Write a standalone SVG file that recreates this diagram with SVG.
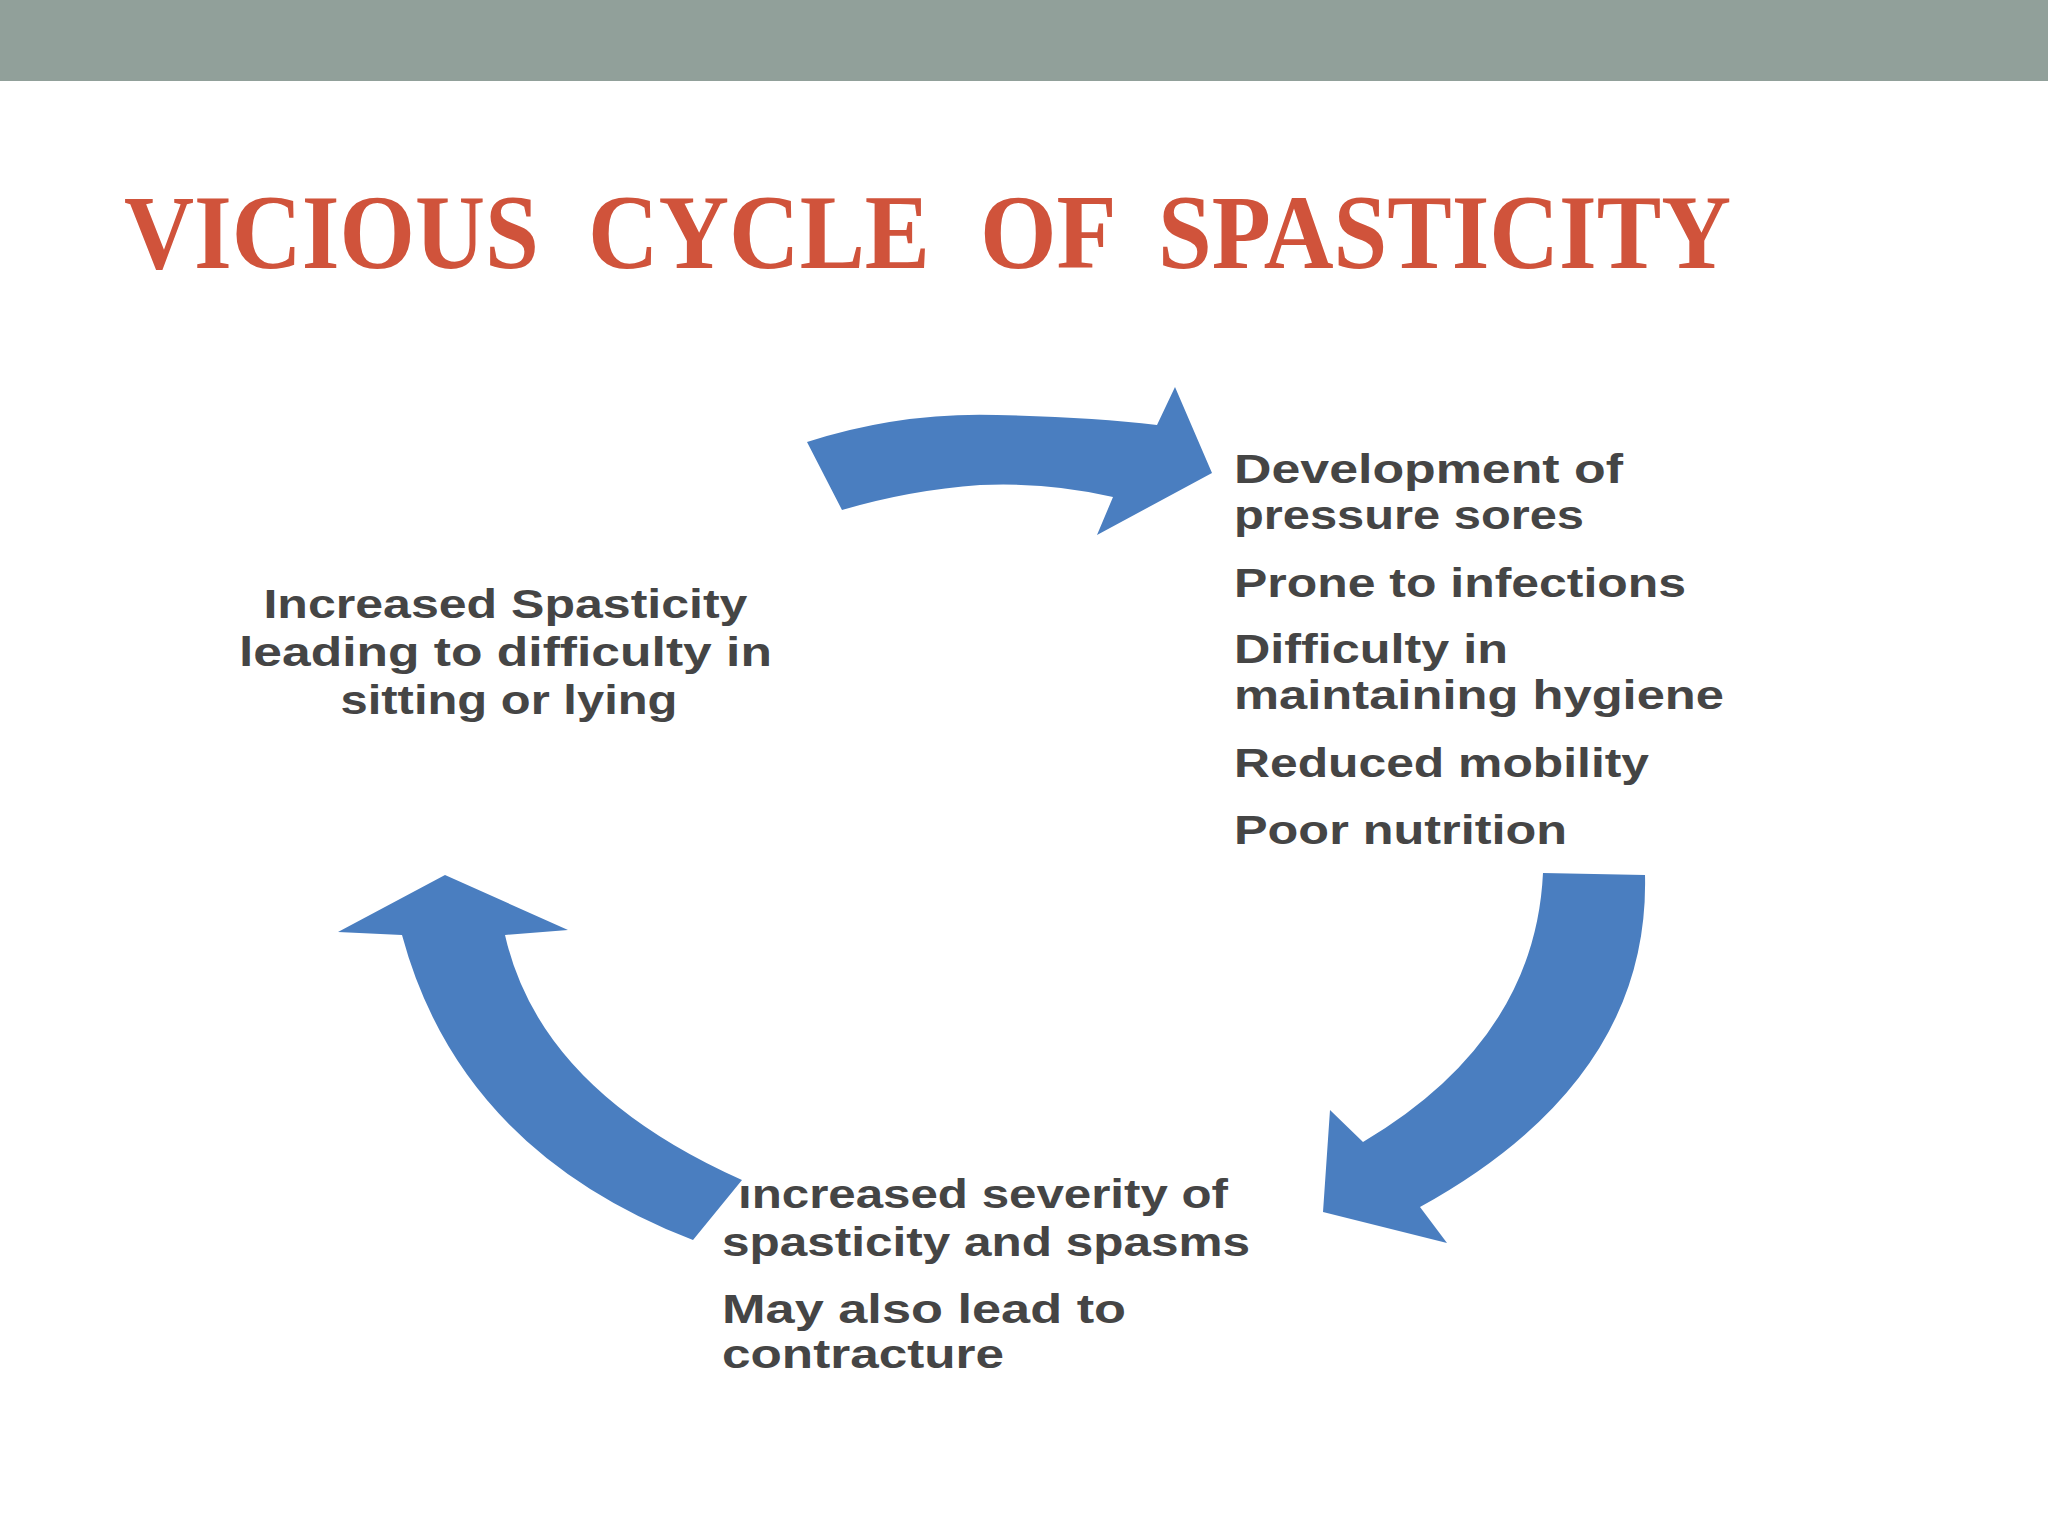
<svg xmlns="http://www.w3.org/2000/svg" width="2048" height="1536" viewBox="0 0 2048 1536">
<style>
.title{font-family:"Liberation Serif","Times New Roman",serif;font-weight:bold;font-size:106px;fill:#d0533b}
.lbl{font-family:"Liberation Sans",Arial,sans-serif;font-weight:bold;font-size:40px;fill:#454545}
.arrow{fill:#4a7ec0}
</style>
<rect x="0" y="0" width="2048" height="1536" fill="#ffffff"/>
<rect x="0" y="0" width="2048" height="81" fill="#91a09a"/>
<text class="title" y="268"><tspan x="124" textLength="415" lengthAdjust="spacingAndGlyphs">VICIOUS</tspan> <tspan x="588" textLength="342" lengthAdjust="spacingAndGlyphs">CYCLE</tspan> <tspan x="980" textLength="133" lengthAdjust="spacingAndGlyphs">OF</tspan> <tspan x="1158" textLength="573" lengthAdjust="spacingAndGlyphs">SPASTICITY</tspan></text>
<g id="connectors">
<path id="arrow-top" class="arrow" d="M807,442 Q900,412 997,415 Q1090,417 1157,425 L1175,387 L1212,473 L1097,535 L1113,497 Q1050,482 980,485 Q910,490 842,510 Z"/>
<path id="arrow-right" class="arrow" d="M1543,873 L1645,875 Q1650,1080 1420,1207 L1447,1243 L1323,1212 L1330,1110 L1363,1142 Q1535,1040 1543,873 Z"/>
</g>
<g id="node-left">
<text class="lbl" text-anchor="middle">
<tspan x="511" y="618" textLength="484" lengthAdjust="spacingAndGlyphs">Increased Spasticity</tspan>
<tspan x="511" y="666" textLength="533" lengthAdjust="spacingAndGlyphs">leading to difficulty  in</tspan>
<tspan x="509" y="714" textLength="337" lengthAdjust="spacingAndGlyphs">sitting or lying</tspan>
</text>
</g>
<g id="node-right">
<text class="lbl">
<tspan x="1234" y="483" textLength="389" lengthAdjust="spacingAndGlyphs">Development  of</tspan>
<tspan x="1234" y="529" textLength="350" lengthAdjust="spacingAndGlyphs">pressure sores</tspan>
<tspan x="1234" y="597" textLength="452" lengthAdjust="spacingAndGlyphs">Prone to infections</tspan>
<tspan x="1234" y="663" textLength="274" lengthAdjust="spacingAndGlyphs">Difficulty  in</tspan>
<tspan x="1234" y="709" textLength="490" lengthAdjust="spacingAndGlyphs">maintaining  hygiene</tspan>
<tspan x="1234" y="777" textLength="415" lengthAdjust="spacingAndGlyphs">Reduced mobility</tspan>
<tspan x="1234" y="844" textLength="333" lengthAdjust="spacingAndGlyphs">Poor nutrition</tspan>
</text>
</g>
<g id="node-bottom">
<text class="lbl">
<tspan x="738" y="1208" textLength="490" lengthAdjust="spacingAndGlyphs">ıncreased severity of</tspan>
<tspan x="722" y="1256" textLength="528" lengthAdjust="spacingAndGlyphs">spasticity and spasms</tspan>
<tspan x="722" y="1323" textLength="404" lengthAdjust="spacingAndGlyphs">May also lead to</tspan>
<tspan x="722" y="1368" textLength="282" lengthAdjust="spacingAndGlyphs">contracture</tspan>
</text>
</g>
<g id="connectors-2">
<path id="arrow-left" class="arrow" d="M445,875 L568,930 L505,935 Q540,1090 742,1180 L693,1240 Q460,1150 402,935 L338,932 Z"/>
</g>
</svg>
